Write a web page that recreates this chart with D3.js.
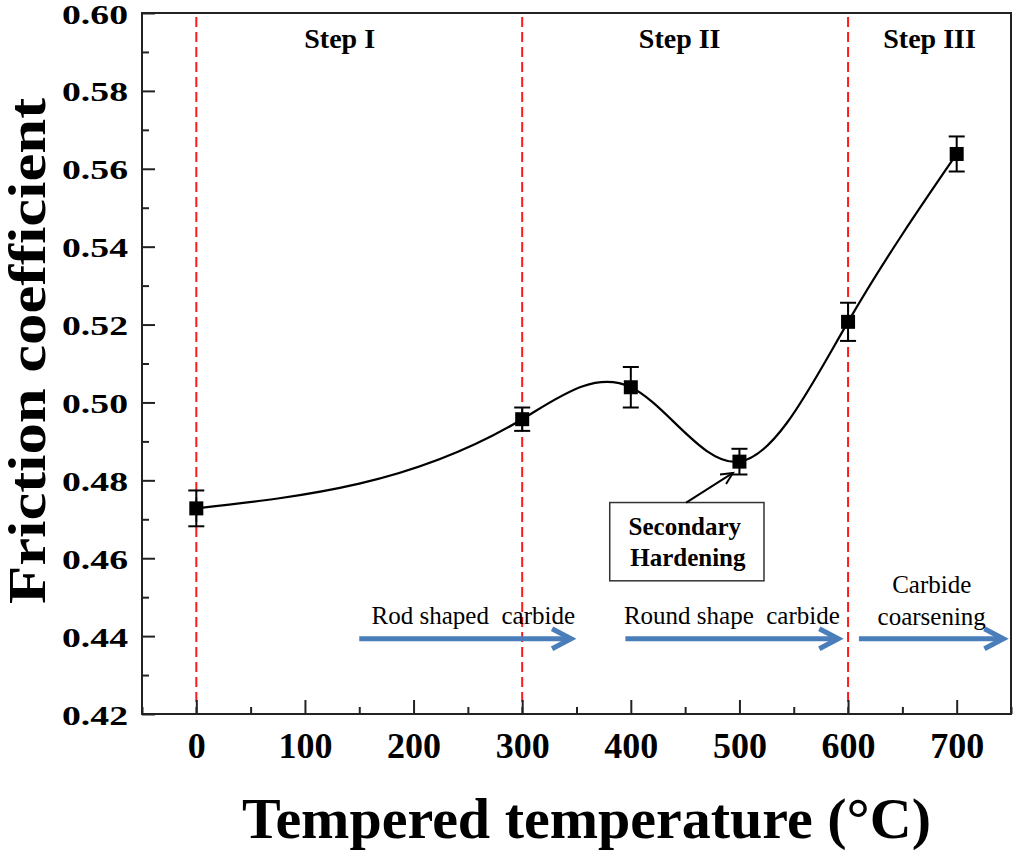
<!DOCTYPE html>
<html>
<head>
<meta charset="utf-8">
<script src="https://cdn.jsdelivr.net/npm/d3@7"></script>
<style>
  body { margin: 0; background: #fff; }
  text { font-family: "Liberation Serif", "Times New Roman", serif; }
</style>
</head>
<body>
<div id="chart"></div>
<script>
// data
const temps = [0, 300, 400, 500, 600, 700];
const friction = [0.4728, 0.4957, 0.5039, 0.4848, 0.5207, 0.5638];
const errors = [0.0046, 0.0030, 0.0052, 0.0033, 0.0049, 0.0045];

const xTicks = [0, 100, 200, 300, 400, 500, 600, 700];
const xMinor = [-50, 50, 150, 250, 350, 450, 550, 650, 750];
const yTicks = [0.42, 0.44, 0.46, 0.48, 0.50, 0.52, 0.54, 0.56, 0.58, 0.60];
const yMinor = [0.43, 0.45, 0.47, 0.49, 0.51, 0.53, 0.55, 0.57, 0.59];

const stepBounds = [0, 300, 600];
const stepNames = ["Step I", "Step II", "Step III"];
const stepCenters = [132, 445, 675];

const phaseNames = [["Rod shaped  carbide"], ["Round shape  carbide"], ["Carbide", "coarsening"]];
const phaseStart = [150, 395, 610];
const phaseEnd = [345, 591, 743];
const phaseTextX = [255, 493, 677];

// natural cubic spline y(x) as a d3 curve (Origin style spline connection)
function curveNaturalX(context) { return new NaturalX(context); }
function NaturalX(context) { this._context = context; }
NaturalX.prototype = {
    areaStart: function() { this._line = 0; },
    areaEnd: function() { this._line = NaN; },
    lineStart: function() { this._x = []; this._y = []; },
    point: function(x, y) { this._x.push(+x); this._y.push(+y); },
    lineEnd: function() {
        const xs = this._x, ys = this._y, n = xs.length, ctx = this._context;
        if (!n) return;
        ctx.moveTo(xs[0], ys[0]);
        if (n === 2) ctx.lineTo(xs[1], ys[1]);
        if (n < 3) return;
        const h = [], d = [];
        for (let i = 0; i < n - 1; i++) {
            h.push(xs[i + 1] - xs[i]);
            d.push((ys[i + 1] - ys[i]) / h[i]);
        }
        // tridiagonal solve for second derivatives, M0 = Mn = 0
        const M = new Array(n).fill(0);
        const a = [], b = [], c = [], r = [];
        for (let i = 1; i < n - 1; i++) {
            a.push(h[i - 1]); b.push(2 * (h[i - 1] + h[i])); c.push(h[i]);
            r.push(6 * (d[i] - d[i - 1]));
        }
        const m = b.length;
        for (let i = 1; i < m; i++) {
            const w = a[i] / b[i - 1];
            b[i] -= w * c[i - 1];
            r[i] -= w * r[i - 1];
        }
        M[m] = r[m - 1] / b[m - 1];
        for (let i = m - 2; i >= 0; i--) M[i + 1] = (r[i] - c[i] * M[i + 2]) / b[i];
        const s = [];
        for (let i = 0; i < n - 1; i++) s.push(d[i] - h[i] * (2 * M[i] + M[i + 1]) / 6);
        s.push(d[n - 2] + h[n - 2] * (M[n - 2] + 2 * M[n - 1]) / 6);
        for (let i = 0; i < n - 1; i++) {
            const k = h[i] / 3;
            ctx.bezierCurveTo(xs[i] + k, ys[i] + s[i] * k,
                xs[i + 1] - k, ys[i + 1] - s[i + 1] * k,
                xs[i + 1], ys[i + 1]);
        }
    }
};

draw_plot();

function draw_plot() {
    const margin = {top: 13, right: 4, bottom: 139, left: 142},
        width = 1015 - margin.left - margin.right,
        height = 853 - margin.top - margin.bottom;

    const svg = d3.select("#chart")
        .append("svg")
        .attr("width", 1015)
        .attr("height", 853)
        .append("g")
        .attr("transform", `translate(${margin.left},${margin.top})`);

    const x = d3.scaleLinear().domain([-50, 750]).range([0, width]);
    const y = d3.scaleLinear().domain([0.42, 0.60]).range([height, 0]);

    // dashed step boundaries
    svg.selectAll(".step-line")
        .data(stepBounds)
        .join("line")
        .attr("x1", d => x(d)).attr("x2", d => x(d))
        .attr("y1", 4).attr("y2", height)
        .attr("stroke", "#ff1a1a")
        .attr("stroke-width", 2)
        .attr("stroke-dasharray", "10,5");

    // frame
    svg.append("rect")
        .attr("width", width).attr("height", height)
        .attr("fill", "none")
        .attr("stroke", "#222")
        .attr("stroke-width", 2);

    // Y axis
    svg.append("g")
        .call(d3.axisLeft(y).tickValues(yTicks).tickFormat(d3.format(".2f"))
            .tickSize(-13).tickPadding(14))
        .call(g => g.select(".domain").remove())
        .call(g => g.selectAll(".tick line").attr("stroke", "#222").attr("stroke-width", 2))
        .call(g => g.selectAll(".tick text")
            .attr("fill", "#000")
            .attr("dy", "0.36em")
            .style("font-size", "28px")
            .style("font-weight", "bold")
            .attr("textLength", 66)
            .attr("lengthAdjust", "spacingAndGlyphs"));

    svg.append("g")
        .call(d3.axisLeft(y).tickValues(yMinor).tickFormat("").tickSize(-7))
        .call(g => g.select(".domain").remove())
        .call(g => g.selectAll(".tick line").attr("stroke", "#222").attr("stroke-width", 2));

    // X axis
    svg.append("g")
        .attr("transform", `translate(0,${height})`)
        .call(d3.axisBottom(x).tickValues(xTicks).tickSize(-14).tickPadding(18))
        .call(g => g.select(".domain").remove())
        .call(g => g.selectAll(".tick line").attr("stroke", "#222").attr("stroke-width", 2))
        .call(g => g.selectAll(".tick text")
            .attr("fill", "#000")
            .style("font-size", "36px")
            .style("font-weight", "bold"));

    svg.append("g")
        .attr("transform", `translate(0,${height})`)
        .call(d3.axisBottom(x).tickValues(xMinor).tickFormat("").tickSize(-7))
        .call(g => g.select(".domain").remove())
        .call(g => g.selectAll(".tick line").attr("stroke", "#222").attr("stroke-width", 2));

    // axis titles
    svg.append("text")
        .attr("x", x(350) + 10)
        .attr("y", height + 124)
        .attr("text-anchor", "middle")
        .style("font-size", "58px")
        .style("font-weight", "bold")
        .text("Tempered temperature (°C)");

    svg.append("text")
        .attr("transform", `translate(${45 - margin.left},${351 - margin.top}) rotate(-90)`)
        .attr("text-anchor", "middle")
        .attr("textLength", 506)
        .attr("lengthAdjust", "spacingAndGlyphs")
        .style("font-size", "53px")
        .style("font-weight", "bold")
        .text("Friction coefficient");

    // step labels
    svg.selectAll(".step-label")
        .data(stepNames)
        .join("text")
        .attr("x", (d, i) => x(stepCenters[i]))
        .attr("y", 35)
        .attr("text-anchor", "middle")
        .style("font-size", "28px")
        .style("font-weight", "bold")
        .text(d => d);

    // phase arrows
    const blue = "#4a7ebb";
    phaseNames.forEach(function(lines, i) {
        const yA = y(0.4393);
        const x0 = x(phaseStart[i]), x1 = x(phaseEnd[i]);
        svg.append("line")
            .attr("x1", x0).attr("x2", x1 - 3)
            .attr("y1", yA).attr("y2", yA)
            .attr("stroke", blue).attr("stroke-width", 5);
        svg.append("path")
            .attr("d", `M${x1 - 19},${yA - 10}L${x1},${yA}L${x1 - 19},${yA + 10}`)
            .attr("fill", "none")
            .attr("stroke", blue).attr("stroke-width", 5)
            .attr("stroke-linejoin", "miter");
        const t = svg.append("text")
            .attr("x", x(phaseTextX[i]))
            .attr("text-anchor", "middle")
            .style("font-size", "25px")
            .style("white-space", "pre");
        if (lines.length === 1) {
            t.attr("y", y(0.4431)).text(lines[0]);
        } else {
            t.attr("y", y(0.4511)).text(lines[0]);
            svg.append("text")
                .attr("x", x(phaseTextX[i]))
                .attr("y", y(0.4429))
                .attr("text-anchor", "middle")
                .style("font-size", "25px")
                .text(lines[1]);
        }
    });

    // spline through the points
    const pts = temps.map((t, i) => [t, friction[i]]);
    svg.append("path")
        .datum(pts)
        .attr("fill", "none")
        .attr("stroke", "#000")
        .attr("stroke-width", 2.2)
        .attr("d", d3.line().x(d => x(d[0])).y(d => y(d[1])).curve(curveNaturalX));

    // error bars
    const eb = svg.append("g").attr("stroke", "#000").attr("stroke-width", 2);
    temps.forEach(function(t, i) {
        const cx = x(t), top = y(friction[i] + errors[i]), bot = y(friction[i] - errors[i]);
        eb.append("line").attr("x1", cx).attr("x2", cx).attr("y1", top).attr("y2", bot);
        eb.append("line").attr("x1", cx - 8).attr("x2", cx + 8).attr("y1", top).attr("y2", top);
        eb.append("line").attr("x1", cx - 8).attr("x2", cx + 8).attr("y1", bot).attr("y2", bot);
    });

    // markers
    svg.selectAll(".marker")
        .data(pts)
        .join("rect")
        .attr("x", d => x(d[0]) - 7)
        .attr("y", d => y(d[1]) - 7)
        .attr("width", 14).attr("height", 14)
        .attr("fill", "#000");

    // secondary hardening annotation
    const bx0 = x(380.6), bx1 = x(522.6), by0 = y(0.4743), by1 = y(0.4542);
    svg.append("rect")
        .attr("x", bx0).attr("y", by0)
        .attr("width", bx1 - bx0).attr("height", by1 - by0)
        .attr("fill", "#fff")
        .attr("stroke", "#333").attr("stroke-width", 1.5);
    svg.append("text")
        .attr("x", (bx0 + bx1) / 2 - 2)
        .attr("y", by0 + 32)
        .attr("text-anchor", "middle")
        .style("font-size", "25px").style("font-weight", "bold")
        .text("Secondary");
    svg.append("text")
        .attr("x", (bx0 + bx1) / 2 + 1)
        .attr("y", by0 + 63)
        .attr("text-anchor", "middle")
        .style("font-size", "25px").style("font-weight", "bold")
        .text("Hardening");

    const ax0 = x(451), ay0 = by0, ax1 = x(494), ay1 = y(0.4819);
    const ang = Math.atan2(ay1 - ay0, ax1 - ax0);
    svg.append("line")
        .attr("x1", ax0).attr("y1", ay0).attr("x2", ax1).attr("y2", ay1)
        .attr("stroke", "#000").attr("stroke-width", 2);
    const hl = 13, ha = 0.45;
    svg.append("path")
        .attr("d", `M${ax1 - hl * Math.cos(ang - ha)},${ay1 - hl * Math.sin(ang - ha)}L${ax1},${ay1}L${ax1 - hl * Math.cos(ang + ha)},${ay1 - hl * Math.sin(ang + ha)}`)
        .attr("fill", "none")
        .attr("stroke", "#000").attr("stroke-width", 2);
}
</script>
</body>
</html>
